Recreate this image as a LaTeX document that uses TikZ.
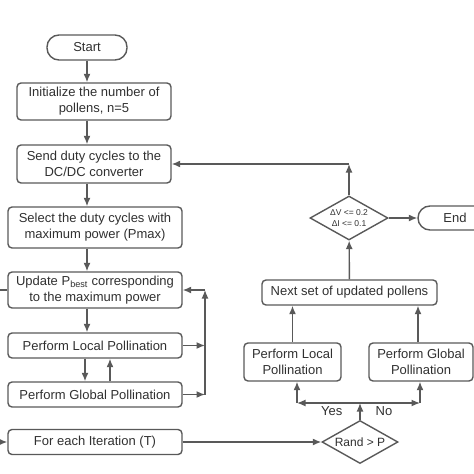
\documentclass[tikz,border=0pt]{standalone}
\usepackage{fontspec}
\setmainfont{Liberation Sans}
\usetikzlibrary{arrows.meta}
\usetikzlibrary{shapes.geometric}
\definecolor{linegray}{HTML}{595959}
\definecolor{textgray}{HTML}{303030}

\begin{document}
\begin{tikzpicture}[x=1pt,y=-1pt,>/.tip={Latex[length=8.5pt,width=7pt]},
	every node/.style={text=textgray,font=\fontsize{13}{16}\selectfont},
	box/.style={draw=linegray,line width=1.4pt,rounded corners=4pt,align=center,inner sep=0pt},
	term/.style={box,rounded corners=12pt},
	dec/.style={draw=linegray,line width=1.4pt,shape=diamond,shape aspect=1.77,inner sep=0pt,align=center},
	flow/.style={draw=linegray,line width=1.4pt,->}]
	\useasboundingbox (0,0) rectangle (474,474);
	% left column
	\draw (87,47.5) node (start) [term,minimum width=80pt,minimum height=25pt] {Start};
	\draw (94,101.5) node (init) [box,minimum width=154pt,minimum height=37pt] {Initialize the number of\\pollens, n=5};
	\draw (94,164) node (send) [box,minimum width=154pt,minimum height=38pt] {Send duty cycles to the\\DC/DC converter};
	\draw (95,227.5) node (select) [box,minimum width=174pt,minimum height=41pt] {Select the duty cycles with\\maximum power (Pmax)};
	\draw (95,290) node (update) [box,minimum width=174pt,minimum height=36pt] {Update P\textsubscript{best} corresponding\\to the maximum power};
	\draw (95,345.5) node (locl) [box,minimum width=174pt,minimum height=25pt] {Perform Local Pollination};
	\draw (95,394.5) node (globl) [box,minimum width=174pt,minimum height=25pt] {Perform Global Pollination};
	\draw (95,442) node (iter) [box,minimum width=174pt,minimum height=25pt] {For each Iteration (T)};
	% right column
	\draw (349,218) node (cond) [dec,minimum width=78pt,minimum height=44pt,font=\fontsize{8.5}{10.5}\selectfont] {ΔV <= 0.2\\ΔI <= 0.1};
	\draw (455,218) node (endn) [term,minimum width=74pt,minimum height=24pt] {End};
	\draw (349.5,292.5) node (next) [box,minimum width=175pt,minimum height=25pt] {Next set of updated pollens};
	\draw (292.5,362) node (locr) [box,minimum width=97pt,minimum height=38pt] {Perform Local\\Pollination};
	\draw (421,362) node (globr) [box,minimum width=104pt,minimum height=38pt] {Perform Global\\Pollination};
	\draw (360,442) node (rand) [dec,minimum width=76pt,minimum height=43pt,font=\fontsize{12}{14}\selectfont] {Rand > P};
	\coordinate (jn) at (360,403);
	\coordinate (jl) at (297,403);
	\coordinate (jr) at (420,403);
	\coordinate (rtop) at (205,290);
	\coordinate (rbot) at (205,394.5);
	\coordinate (lft) at (-6,290);
	% main flow
	\draw[flow] (start) -- (start |- init.north);
	\draw[flow] (start |- init.south) -- (start |- send.north);
	\draw[flow] (start |- send.south) -- (start |- select.north);
	\draw[flow] (start |- select.south) -- (start |- update.north);
	\draw[flow] (start |- update.south) -- (start |- locl.north);
	\draw[flow] ([xshift=-10pt]locl.south) -- ([xshift=-10pt]globl.north);
	\draw[flow] ([xshift=15pt]globl.north) -- ([xshift=15pt]locl.south);
	\draw[flow] (locl.east) -- (locl.east -| rtop);
	\draw[flow] (globl.east) -- (rbot);
	\draw[flow] (rbot) -- (rtop);
	\draw[flow] (rtop) -- (update.east);
	\draw[flow] (update.west) -- (lft) |- (iter.west);
	\draw[flow] (iter) -- (rand);
	% pollination branches
	\draw[flow] (rand.north) -- (jn);
	\draw[flow] (jn) -- node [below=0pt,pos=0.45] {Yes} (jl);
	\draw[flow] (jl) -- (jl |- locr.south);
	\draw[flow] (jn) -- node [below=0pt,pos=0.4] {No} (jr);
	\draw[flow] (jr) -- (jr |- globr.south);
	\draw[flow] (locr.north) -- (locr.north |- next.south);
	\draw[flow] ([xshift=-3pt]globr.north) -- ([xshift=-3pt]globr.north |- next.south);
	\draw[flow] (next) -- (cond);
	\draw[flow] (cond) -- (endn);
	\draw[flow] (cond.north) -- (cond.north |- send.east);
	\draw[flow] (cond.north |- send.east) -- (send.east);
\end{tikzpicture}
\end{document}
